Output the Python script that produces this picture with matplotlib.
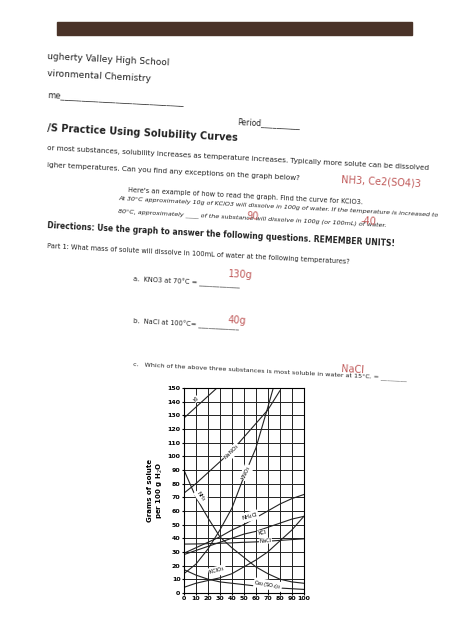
import numpy as np
import matplotlib.pyplot as plt

temps = [0, 10, 20, 30, 40, 50, 60, 70, 80, 90, 100]
ki = [128, 136, 144, 152, None, None, None, None, None, None, None]
nano3 = [73, 80, 88, 96, 104, 114, 124, 134, 148, None, None]
kno3 = [14, 21, 32, 46, 62, 85, 106, 136, 167, None, None]
nh3 = [90, 70, 55, 41, 33, 26, 19, 14, 10, 8, 7]
nh4cl = [29, 33, 37, 41, 46, 50, 55, 60, 65, 69, 72]
kcl = [28, 31, 34, 37, 40, 43, 45, 48, 51, 54, 56]
nacl = [35.7, 35.8, 36, 36.3, 36.6, 37, 37.3, 37.8, 38.4, 39, 39.5]
kclo3 = [4, 7, 9, 11, 14, 19, 24, 30, 38, 46, 56]
ce2so43 = [17, 13, 10, 8, 7, 6, 5, 4, 3.5, 3, 2.5]

fig = plt.figure(figsize=(4.74, 6.32), dpi=100)
fig.patch.set_facecolor("white")

# dark strip at top of the photo
fig.add_artist(plt.Rectangle((0.12, 0.945), 0.75, 0.02, transform=fig.transFigure,
                             color="#4a3328", zorder=0))

def txt(x, y, s, size=6, weight="normal", rot=-3, style="normal"):
    fig.text(x, y, s, fontsize=size, weight=weight, rotation=rot, style=style,
             ha="left", va="center", color="#222222")

txt(0.10, 0.905, "ugherty Valley High School", 6.5)
txt(0.10, 0.880, "vironmental Chemistry", 6.5)
txt(0.10, 0.845, "me_____________________________", 6)
txt(0.50, 0.805, "Period__________", 5.5)
txt(0.10, 0.790, "/S Practice Using Solubility Curves", 7, "bold")
txt(0.10, 0.750, "or most substances, solubility increases as temperature increases. Typically more solute can be dissolved", 5.2)
txt(0.10, 0.728, "igher temperatures. Can you find any exceptions on the graph below?", 5.2)
txt(0.27, 0.690, "Here's an example of how to read the graph. Find the curve for KClO3.", 4.8)
txt(0.25, 0.672, "At 30°C approximately 10g of KClO3 will dissolve in 100g of water. If the temperature is increased to", 4.6, style="italic")
txt(0.25, 0.654, "80°C, approximately ____ of the substance will dissolve in 100g (or 100mL) of water.", 4.6, style="italic")
txt(0.10, 0.628, "Directions: Use the graph to answer the following questions. REMEMBER UNITS!", 5.5, "bold")
txt(0.10, 0.598, "Part 1: What mass of solute will dissolve in 100mL of water at the following temperatures?", 4.8)
txt(0.28, 0.553, "a.  KNO3 at 70°C = ____________", 4.8)
txt(0.28, 0.488, "b.  NaCl at 100°C= ____________", 4.8)
txt(0.28, 0.413, "c.   Which of the above three substances is most soluble in water at 15°C. = ________", 4.6)
for x, y, s in [(0.72, 0.705, "NH3, Ce2(SO4)3"), (0.76, 0.645, "-40"), (0.52, 0.653, "90"),
                (0.48, 0.560, "130g"), (0.48, 0.488, "40g"), (0.72, 0.410, "NaCl")]:
    fig.text(x, y, s, fontsize=7, color="#c05a5a", rotation=-3, family="DejaVu Sans")

ax = fig.add_axes([0.388, 0.062, 0.253, 0.324])
series = [("KI", ki), ("NaNO3", nano3), ("KNO3", kno3), ("NH3", nh3), ("NH4Cl", nh4cl),
          ("KCl", kcl), ("NaCl", nacl), ("KClO3", kclo3), ("Ce2(SO4)3", ce2so43)]
for name, vals in series:
    t = [tt for tt, v in zip(temps, vals) if v is not None]
    v = [vv for vv in vals if vv is not None]
    ax.plot(t, v, color="#222222", lw=0.8)

labels = [(10, 142, "KI", 45), (40, 103, "NaNO$_3$", 45), (52, 88, "KNO$_3$", 65),
          (14, 71, "NH$_3$", -55), (55, 56, "NH$_4$Cl", 15), (65, 44, "KCl", 10),
          (68, 38, "NaCl", 5), (28, 16, "KClO$_3$", 15), (70, 6, "Ce$_2$(SO$_4$)$_3$", -10)]
for x, y, s, r in labels:
    ax.text(x, y, s, fontsize=3.8, rotation=r, ha="center", va="center",
            bbox=dict(facecolor="white", edgecolor="none", pad=0.3))

ax.set_xlim(0, 100)
ax.set_ylim(0, 150)
ax.set_xticks(range(0, 101, 10))
ax.set_yticks(range(0, 151, 10))
ax.tick_params(labelsize=4.5, length=1.5, pad=1)
for lab in ax.get_xticklabels() + ax.get_yticklabels():
    lab.set_fontweight("bold")
ax.grid(True, color="#222222", lw=0.7)
ax.set_ylabel("Grams of solute\nper 100 g H$_2$O", fontsize=5, weight="bold", labelpad=2)

fig.savefig("out.png", dpi=100)
